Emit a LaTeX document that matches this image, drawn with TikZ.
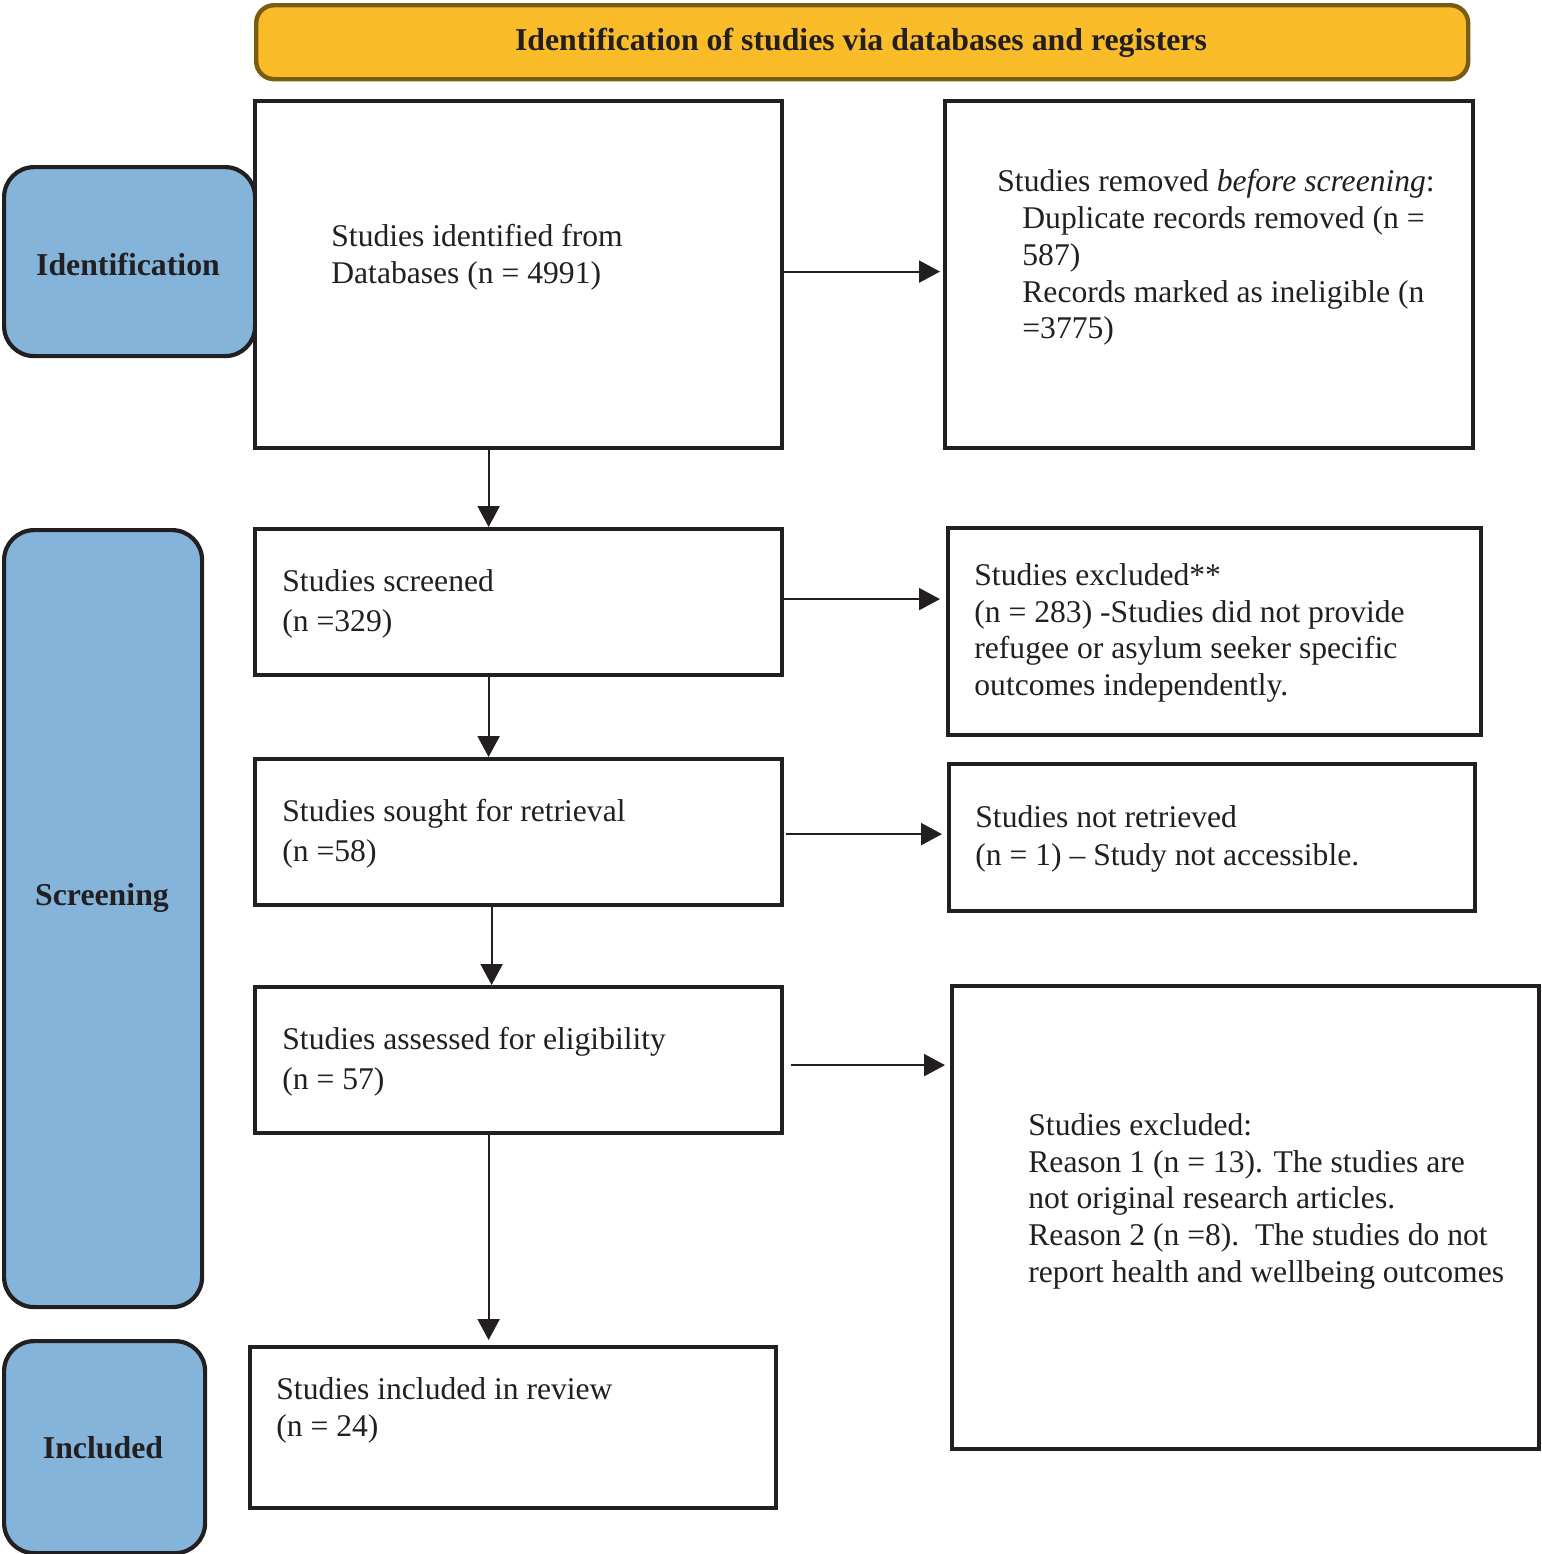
\documentclass[tikz,border=0pt]{standalone}
\usepackage{fontspec}
\setmainfont{Liberation Serif}
\usetikzlibrary{arrows.meta,calc}
\definecolor{hdrfill}{HTML}{FBBC2A}
\definecolor{hdrline}{HTML}{7A5C10}
\definecolor{sidefill}{HTML}{85B4DA}
\definecolor{ink}{HTML}{231F20}
\tikzset{
  box/.style={draw=ink, line width=2.1pt, fill=white, anchor=north west, inner sep=0pt},
  side/.style={draw=ink, line width=2.1pt, fill=sidefill, rounded corners=15pt, anchor=north west, inner sep=0pt},
  sidelabel/.style={text=ink, font=\fontsize{15.9}{18}\selectfont\bfseries},
  txt/.style={text=ink, anchor=north west, inner sep=0pt, align=left, font=\fontsize{15.8}{18.4}\selectfont},
  txtw/.style={text=ink, anchor=north west, inner sep=0pt, align=left, font=\fontsize{15.8}{20}\selectfont},
  arr/.style={draw=ink, line width=1.1pt, -{Triangle[length=10.5pt,width=11pt]}},
}
\begin{document}
\begin{tikzpicture}[x=0.5pt,y=-0.5pt]
\useasboundingbox (0,0) rectangle (1542,1554);
% header
\node[draw=hdrline, line width=2.2pt, fill=hdrfill, rounded corners=9pt, anchor=north west, inner sep=0pt,
  minimum width=606pt, minimum height=37pt] (hdr) at (254,3) {};
\node[text=ink, font=\fontsize{15.9}{18}\selectfont\bfseries] (hdrt) at (861,43) {Identification of studies via databases and registers};
% side boxes
\node[side, minimum width=125.5pt, minimum height=94.5pt] (sid) at (2,165) {};
\node[sidelabel] (sidt) at (128,264) {Identification};
\node[side, minimum width=99pt, minimum height=388.5pt] (sscr) at (2,528) {};
\node[sidelabel] (sscrt) at (102,898) {Screening};
\node[side, minimum width=100.5pt, minimum height=106pt] (sinc) at (2,1339) {};
\node[sidelabel] (sinct) at (103,1448) {Included};
% main boxes
\node[box, minimum width=263.5pt, minimum height=173.5pt] (b1) at (253,99) {};
\node[txt] (b1t) at (331,224) {Studies identified from\\Databases (n = 4991)};
\node[box, minimum width=264pt, minimum height=173.5pt] (rem) at (943,99) {};
\node[txt] (remt) at (997,169) {Studies removed \emph{before screening}:\\
\hspace*{12.5pt}Duplicate records removed (n =\\
\hspace*{12.5pt}587)\\
\hspace*{12.5pt}Records marked as ineligible (n\\
\hspace*{12.5pt}=3775)};
\node[box, minimum width=263.5pt, minimum height=73pt] (scr) at (253,527) {};
\node[txtw] (scrt) at (282,569) {Studies screened\\(n =329)};
\node[box, minimum width=266.5pt, minimum height=103.5pt] (exc1) at (946,526) {};
\node[txt] (exc1t) at (974,563) {Studies excluded**\\(n = 283) -Studies did not provide\\refugee or asylum seeker specific\\outcomes independently.};
\node[box, minimum width=263.5pt, minimum height=73pt] (sgt) at (253,757) {};
\node[txtw] (sgtt) at (282,799) {Studies sought for retrieval\\(n =58)};
\node[box, minimum width=263pt, minimum height=73.5pt] (nr) at (947,762) {};
\node[txtw, font=\fontsize{15.8}{19}\selectfont] (nrt) at (975,805) {Studies not retrieved\\(n = 1) -- Study not accessible.};
\node[box, minimum width=263.5pt, minimum height=73pt] (ass) at (253,985) {};
\node[txtw] (asst) at (282,1027) {Studies assessed for eligibility\\(n = 57)};
\node[box, minimum width=293.5pt, minimum height=231.5pt] (exc2) at (950,984) {};
\node[txt] (exc2t) at (1028,1113) {Studies excluded:\\Reason 1 (n = 13). The studies are\\not original research articles.\\Reason 2 (n =8).\ \ The studies do not\\report health and wellbeing outcomes};
\node[box, minimum width=263pt, minimum height=80.5pt] (inc) at (248,1345) {};
\node[txt] (inct) at (276,1377) {Studies included in review\\(n = 24)};
% connectors
\draw[arr, shorten >=1.5pt] ([yshift=1.5pt]b1.east) -- ([yshift=1.5pt]b1.east -| rem.west);
\draw[arr, shorten >=3pt] ([yshift=1.5pt]scr.east) -- ([yshift=1.5pt]scr.east -| exc1.west);
\draw[arr, shorten <=1pt, shorten >=2.5pt] ([yshift=-1pt]sgt.east) -- ([yshift=-1pt]sgt.east -| nr.west);
\draw[arr, shorten <=3.5pt, shorten >=2.5pt] ([yshift=-2.5pt]ass.east) -- ([yshift=-2.5pt]ass.east -| exc2.west);
\draw[arr] ([xshift=-15pt]b1.south) -- ([xshift=-15pt]b1.south |- scr.north);
\draw[arr] ([xshift=-15pt]scr.south) -- ([xshift=-15pt]scr.south |- sgt.north);
\draw[arr] ([xshift=-13.5pt]sgt.south) -- ([xshift=-13.5pt]sgt.south |- ass.north);
\draw[arr, shorten >=2.5pt] ([xshift=-15pt]ass.south) -- ([xshift=-15pt]ass.south |- inc.north);
\end{tikzpicture}
\end{document}
